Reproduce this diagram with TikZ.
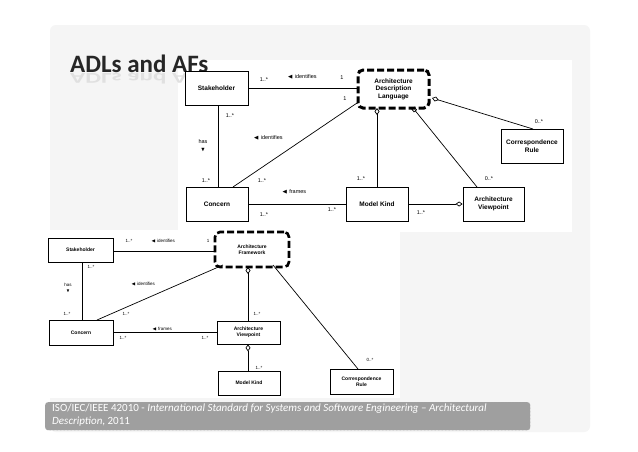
\documentclass[tikz,border=0pt]{standalone}
\usepackage{amssymb}
\usepackage{fontspec}
\setmainfont{Liberation Sans}
\newfontfamily\carfont{Carlito}
\usetikzlibrary{arrows.meta}
\begin{document}
\begin{tikzpicture}[x=1pt,y=-1pt,
  box/.style={draw,line width=0.8pt,fill=white,align=center,inner sep=0pt,font=\bfseries\fontsize{6.5}{7.5}\selectfont},
  sbox/.style={box,font=\bfseries\fontsize{5}{6}\selectfont,line width=0.7pt},
  ad/.style={draw,line width=3pt,dash pattern=on 7pt off 3pt,rounded corners=5pt,fill=white,align=center,inner sep=0pt,font=\bfseries\fontsize{6.5}{7.5}\selectfont},
  sad/.style={ad,font=\bfseries\fontsize{5}{6}\selectfont,line width=2.6pt},
  ln/.style={line width=0.7pt},
  dia/.style={{Diamond[open,length=7pt,width=5pt]}-},
  lb/.style={font=\fontsize{5.5}{6}\selectfont,inner sep=0pt},
  slb/.style={font=\fontsize{4.5}{5}\selectfont,inner sep=0pt}]
\useasboundingbox (0,0) rectangle (638,451);
\fill[white] (0,0) rectangle (638,451);
\fill[gray!8,rounded corners=6pt] (50,25) rectangle (590,432);
% top image
\fill[white] (178,60) rectangle (572,232);
% title
\node[anchor=north west,inner sep=0pt,font=\carfont\bfseries\fontsize{25}{28}\selectfont,text=black!12] (refl) at (70,73) {\scalebox{1}[-0.6]{ADLs and AFs}};
\node[anchor=base west,inner sep=0pt,font=\carfont\bfseries\fontsize{25}{28}\selectfont,text=black!85] (title) at (70,72) {ADLs and AFs};
\node[box,minimum width=63pt,minimum height=34pt] (sh) at (216.5,88) {Stakeholder};
\node[ad,minimum width=71pt,minimum height=38pt] (adl) at (393.5,89) {Architecture\\Description\\Language};
\node[box,minimum width=62pt,minimum height=34pt] (cr) at (532,146) {Correspondence\\Rule};
\node[box,minimum width=62pt,minimum height=34pt] (co) at (217,204) {Concern};
\node[box,minimum width=62pt,minimum height=34pt] (mk) at (377,204) {Model Kind};
\node[box,minimum width=61pt,minimum height=34pt] (vp) at (493.5,204) {Architecture\\Viewpoint};
\coordinate (a1) at (358,88);
\coordinate (a2) at (357,103);
\coordinate (a3) at (377,108);
\coordinate (a4) at (413,108);
\coordinate (a5) at (432,98);
\draw[ln] (sh.east|-a1) -- (a1);
\draw[ln] (sh.south-|218,0) -- (co.north-|218,0);
\draw[ln] (233,187) -- (a2);
\draw[ln,dia] (a3) -- (mk.north);
\draw[ln,{Square[open,length=4pt,width=4pt]}-] (a4) -- (477,187);
\draw[ln,dia] (a5) -- (533,129);
\draw[ln] (co.east) -- (mk.west);
\draw[ln,dia] (vp.west) -- (mk.east);
\node[lb] (t1) at (264,80) {1..*};
\node[lb] (t2) at (302,77) {$\blacktriangleleft$ identifies};
\node[lb] (t3) at (342,78) {1};
\node[lb] (t4) at (345,99) {1};
\node[lb] (t5) at (230,116) {1..*};
\node[lb] (t6) at (203,142) {has};
\node[lb] (t7) at (203,150) {$\blacktriangledown$};
\node[lb] (t8) at (268,138) {$\blacktriangleleft$ identifies};
\node[lb] (t9) at (206,181) {1..*};
\node[lb] (t10) at (262,181) {1..*};
\node[lb] (t11) at (294,192) {$\blacktriangleleft$ frames};
\node[lb] (t12) at (264,215) {1..*};
\node[lb] (t13) at (332,210) {1..*};
\node[lb] (t14) at (361,179) {1..*};
\node[lb] (t15) at (421,213) {1..*};
\node[lb] (t16) at (489,179) {0..*};
\node[lb] (t17) at (539,122) {0..*};
% bottom image
\fill[white] (35,230) rectangle (400,398);
\node[sbox,minimum width=65pt,minimum height=24pt] (sh2) at (80.5,250) {Stakeholder};
\node[sad,minimum width=74pt,minimum height=35pt] (af) at (252,249.5) {Architecture\\Framework};
\node[sbox,minimum width=64pt,minimum height=25pt] (co2) at (81,332.5) {Concern};
\node[sbox,minimum width=63pt,minimum height=23pt] (vp2) at (248.5,332.5) {Architecture\\Viewpoint};
\node[sbox,minimum width=62pt,minimum height=24pt] (mk2) at (249,383) {Model Kind};
\node[sbox,minimum width=63pt,minimum height=25pt] (cr2) at (361.5,381.5) {Correspondence\\Rule};
\coordinate (b1) at (215,251);
\coordinate (b2) at (223,265);
\coordinate (b3) at (248,267);
\coordinate (b4) at (273,265);
\draw[ln] (sh2.east|-b1) -- (b1);
\draw[ln] (sh2.south-|82,0) -- (co2.north-|82,0);
\draw[ln] (97,320) -- (b2);
\draw[ln,dia] (b3) -- (vp2.north-|b3);
\draw[ln] (co2.east|-0,332) -- (vp2.west|-0,332);
\draw[ln,dia] (vp2.south-|b3) -- (mk2.north-|b3);
\draw[ln] (b4) -- (358,369);
\node[slb] (u1) at (129,241) {1..*};
\node[slb] (u2) at (163,241) {$\blacktriangleleft$ identifies};
\node[slb] (u3) at (208,241) {1};
\node[slb] (u4) at (91,267) {1..*};
\node[slb] (u5) at (68,285) {has};
\node[slb] (u6) at (68,291) {$\blacktriangledown$};
\node[slb] (u7) at (143,284) {$\blacktriangleleft$ identifies};
\node[slb] (u8) at (67,314) {1..*};
\node[slb] (u9) at (126,314) {1..*};
\node[slb] (u10) at (162,329) {$\blacktriangleleft$ frames};
\node[slb] (u11) at (123,338) {1..*};
\node[slb] (u12) at (205,338) {1..*};
\node[slb] (u13) at (257,314) {1..*};
\node[slb] (u14) at (259,368) {1..*};
\node[slb] (u15) at (370,360) {0..*};
% footer
\node[draw=gray!70,densely dotted,fill=gray!75,rounded corners=3pt,minimum width=485pt,minimum height=28pt,anchor=north west,inner sep=0pt] (ft) at (45,402) {};
\node[anchor=north west,text=white,align=left,inner sep=0pt,font=\carfont\fontsize{11}{13}\selectfont] (ftx) at (52,404) {ISO/IEC/IEEE 42010 - \textit{International Standard for Systems and Software Engineering – Architectural}\\\textit{Description}, 2011};
\end{tikzpicture}
\end{document}
